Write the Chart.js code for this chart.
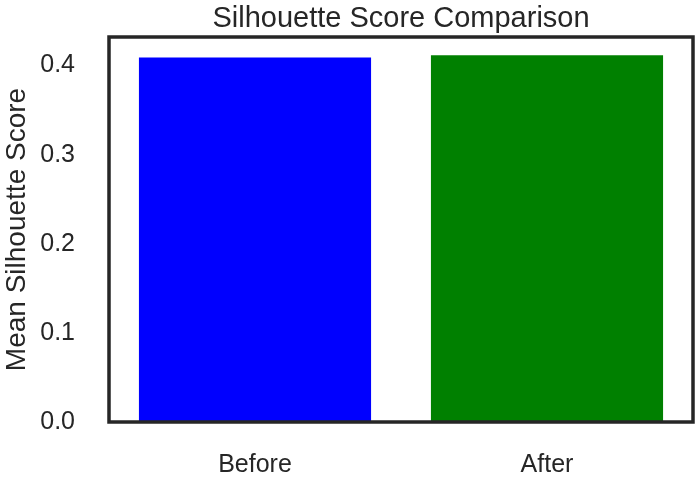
<!DOCTYPE html>
<html>
<head>
<meta charset="utf-8">
<script src="https://cdn.jsdelivr.net/npm/chart.js@4"></script>
<style>
  html, body { margin: 0; padding: 0; background: #fff; }
  #wrap { width: 700px; height: 487px; }
</style>
</head>
<body>
<div id="wrap"><canvas id="chart" width="700" height="487"></canvas></div>
<script>
const categories = ['Before', 'After'];
const scores = [0.409, 0.4115];
const barColors = ['#0000ff', '#008000'];
const yTicks = [0.0, 0.1, 0.2, 0.3, 0.4];

const INK = '#262626';
const FONT = 'Arial, "Liberation Sans", sans-serif';

// frame around the plot area, like the matplotlib axes spines
const frameBox = {
    id: 'frameBox',
    afterDatasetsDraw(chart) {
        const a = chart.chartArea;
        const ctx = chart.ctx;
        ctx.save();
        ctx.strokeStyle = INK;
        ctx.lineWidth = 3.5;
        ctx.strokeRect(a.left, a.top, a.right - a.left, a.bottom - a.top);
        ctx.restore();
    }
};

new Chart(document.getElementById('chart').getContext('2d'), {
    type: 'bar',
    data: {
        labels: categories,
        datasets: [{
            data: scores,
            backgroundColor: barColors,
            borderWidth: 0,
            barPercentage: 0.795,
            categoryPercentage: 1.0
        }]
    },
    options: {
        responsive: false,
        animation: false,
        layout: { padding: { left: 0, right: 7, top: 0, bottom: 0 } },
        plugins: {
            legend: { display: false },
            tooltip: { enabled: false }
        },
        scales: {
            // title sits over the plot area, as in matplotlib
            top: {
                type: 'category',
                position: 'top',
                grid: { display: false, drawTicks: false },
                border: { display: false },
                ticks: { display: false },
                title: {
                    display: true,
                    text: 'Silhouette Score Comparison',
                    color: INK,
                    font: { family: FONT, size: 29, lineHeight: 1.2 },
                    padding: { top: 2, bottom: 0 }
                },
                afterFit(scale) { scale.height = 37; }
            },
            x: {
                grid: { display: false, drawTicks: false },
                border: { display: false },
                ticks: {
                    color: INK,
                    padding: 28,
                    font: { family: FONT, size: 25 }
                },
                afterFit(scale) { scale.height = 65; }
            },
            y: {
                min: 0,
                max: 0.432,
                grid: { display: false, drawTicks: false },
                border: { display: false },
                afterBuildTicks(scale) {
                    scale.ticks = yTicks.map(v => ({ value: v }));
                },
                ticks: {
                    color: INK,
                    padding: 34,
                    font: { family: FONT, size: 25 },
                    callback: v => v.toFixed(1)
                },
                title: {
                    display: true,
                    text: 'Mean Silhouette Score',
                    color: INK,
                    font: { family: FONT, size: 28, lineHeight: 1.2 },
                    padding: { top: 0, bottom: 0 }
                },
                afterFit(scale) {
                    scale.width = 109;
                    scale.paddingTop = 0;
                    scale.paddingBottom = 0;
                }
            }
        }
    },
    plugins: [frameBox]
});
</script>
</body>
</html>
